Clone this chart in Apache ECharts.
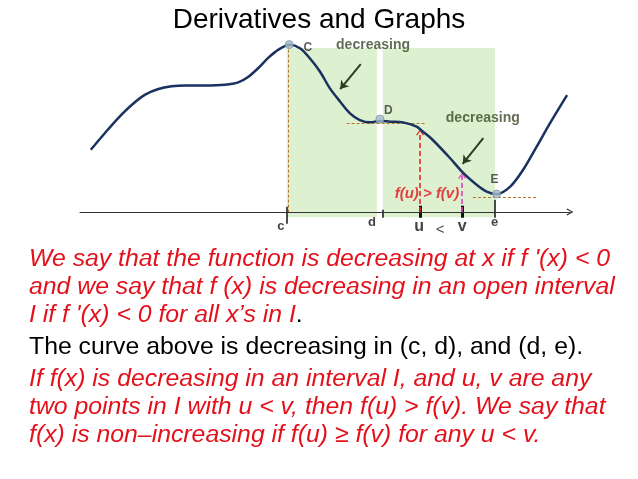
<!DOCTYPE html>
<html>
<head>
<meta charset="utf-8">
<script src="https://cdn.jsdelivr.net/npm/echarts@6/dist/echarts.min.js"></script>
<style>
html,body{margin:0;padding:0;background:#fff;}
#chart{width:638px;height:479px;}
</style>
</head>
<body>
<div id="chart"></div>
<script>
// ---- data (abstract units) ----
const curveX = [2.2, 5.1, 7.8, 10.6, 13.3, 16.0, 18.7, 21.4, 25.5, 29.6, 32.3, 34.3, 36.4, 38.4, 40.5, 42.8, 44.9, 46.9, 49.0, 51.0, 53.1, 55.1, 57.1, 59.2, 61.2, 63.3, 65.9, 68.7, 70.0, 72.0, 75.5, 78.2, 81.0, 83.0, 85.0, 87.8, 90.4, 93.2, 95.9, 99.4];
const curveY = [34.6, 43.9, 52.2, 59.6, 65.2, 68.3, 69.8, 70.3, 70.3, 70.7, 72.0, 75.0, 80.0, 85.6, 90.2, 92.9, 91.0, 85.4, 77.9, 68.7, 61.3, 54.8, 51.1, 49.8, 50.6, 50.2, 49.8, 47.4, 44.6, 40.0, 30.0, 21.7, 15.0, 11.3, 9.9, 14.1, 23.3, 36.3, 49.2, 64.9];
const pointNames = ['C', 'D', 'E'];
const pointX = [42.7, 61.2, 85.0];
const pointY = [93.0, 51.6, 10.0];
const tickNames = ['c', 'd', 'u', 'v', 'e'];
const tickX = [42.2, 61.8, 69.4, 78.0, 84.7];
const intervalStart = [42.2, 61.8];
const intervalEnd = [60.6, 84.7];
const intervalTop = 91.1;
const fu = 44.2;   // f(u)
const fv = 20.2;   // f(v)

const chart = echarts.init(document.getElementById('chart'), null, {renderer: 'canvas'});

const curveData = curveX.map((x, i) => [x, curveY[i]]);
const seg = (x1, y1, x2, y2) => [{coord: [x1, y1]}, {coord: [x2, y2]}];

const RED = '#e3111b';
const DASH = '#b8742a';
const FONT = '"Liberation Sans", Arial, sans-serif';
const CHEVRON = 'path://M5,0 L10,9 L8.6,10 L5,3.2 L1.4,10 L0,9 Z';

const bodyLines = [
  [{t: 'We say that the function is decreasing at x if f \'(x) < 0', s: 'r'}],
  [{t: 'and we say that f (x) is decreasing in an open interval', s: 'r'}],
  [{t: 'I if f \'(x) < 0 for all x\u2019s in I', s: 'r'}, {t: '.', s: 'k'}],
  [{t: 'The curve above is decreasing in (c, d), and (d, e).', s: 'k'}],
  [{t: 'If f(x) is decreasing in an interval I, and u, v are any', s: 'r'}],
  [{t: 'two points in I with u < v, then f(u) > f(v). We say that', s: 'r'}],
  [{t: 'f(x) is non\u2013increasing if f(u) \u2265 f(v) for any u < v.', s: 'r'}]
];
const bodyY = [259, 287, 315, 347, 379, 407, 435];

const graphics = [{
  type: 'text', left: 'center', top: 6,
  style: {text: 'Derivatives and Graphs', font: '28px ' + FONT, fill: '#000'}
}];
bodyLines.forEach((parts, i) => {
  graphics.push({
    type: 'text', x: 29, y: bodyY[i],
    style: {
      text: parts.map(p => '{' + p.s + '|' + p.t + '}').join(''),
      verticalAlign: 'middle',
      rich: {
        r: {fontStyle: 'italic', fontSize: 24.8, fontFamily: FONT, fill: RED, color: RED},
        k: {fontStyle: 'normal', fontSize: 24.8, fontFamily: FONT, fill: '#000', color: '#000'}
      }
    }
  });
});

const labelData = [
  {name: 'decreasing', value: [59.8, 92.9], fs: 14, c: '#3b4a28', w: 'bold', st: 'normal'},
  {name: 'decreasing', value: [82.2, 52.2], fs: 14, c: '#3b4a28', w: 'bold', st: 'normal'},
  {name: 'C', value: [46.5, 91.3], fs: 12, c: '#333', w: 'bold', st: 'normal'},
  {name: 'D', value: [62.9, 56.3], fs: 12, c: '#333', w: 'bold', st: 'normal'},
  {name: 'E', value: [84.6, 17.9], fs: 12, c: '#333', w: 'bold', st: 'normal'},
  {name: 'f(u) > f(v)', value: [70.8, 10.2], fs: 15, c: RED, w: 'bold', st: 'italic'},
  {name: 'c', value: [41.0, -8.2], fs: 13, c: '#111', w: 'bold', st: 'normal'},
  {name: 'd', value: [59.6, -5.9], fs: 13, c: '#111', w: 'bold', st: 'normal'},
  {name: 'u', value: [69.2, -8.2], fs: 16, c: '#111', w: 'bold', st: 'normal'},
  {name: '<', value: [73.5, -9.8], fs: 15, c: '#111', w: 'normal', st: 'normal'},
  {name: 'v', value: [78.0, -8.2], fs: 16, c: '#111', w: 'bold', st: 'normal'},
  {name: 'e', value: [84.6, -5.9], fs: 13, c: '#111', w: 'bold', st: 'normal'}
].map(d => ({
  name: d.name, value: d.value,
  label: {show: true, position: 'inside', formatter: '{b}', fontSize: d.fs, color: d.c,
          fontWeight: d.w, fontStyle: d.st, fontFamily: FONT}
}));

const tickBottom = [-6.5, -3.2, -3.2, -3.2, -3.2];
const tickTop = [2.9, 1.3, 3.5, 3.5, 6.8];
const tickWidth = [1.5, 1.5, 3, 3, 1.5];

chart.setOption({
  animation: false,
  backgroundColor: '#fff',
  graphic: graphics,
  grid: {left: 80, right: 68, top: 32, bottom: 240},
  xAxis: {
    type: 'value', min: 0, max: 100, z: 10,
    axisLine: {show: true, onZero: true, symbol: ['none', CHEVRON], symbolSize: [10, 7],
               lineStyle: {color: '#333', width: 1}},
    axisTick: {show: false}, axisLabel: {show: false}, splitLine: {show: false}
  },
  yAxis: {type: 'value', min: -15, max: 100, show: false},
  series: [
    {
      type: 'line', name: 'areas', data: [], silent: true, z: 1,
      markArea: {
        silent: true,
        itemStyle: {color: '#ddf0cf'},
        data: intervalStart.map((s, i) => seg(s, intervalTop, intervalEnd[i], -2.9))
      }
    },
    {
      type: 'line', name: 'guides', data: [], silent: true, z: 3,
      markLine: {
        silent: true, symbol: ['none', 'none'], label: {show: false},
        lineStyle: {color: DASH, type: [3, 2], width: 1},
        data: [
          seg(tickX[0] + 0.2, pointY[0], tickX[0] + 0.2, 0),
          seg(54.4, 49.4, 70.6, 49.4),
          seg(80.2, 8.3, 93.2, 8.3)
        ]
      }
    },
    {
      type: 'line', name: 'ticks', data: [], silent: true, z: 11,
      markLine: {
        silent: true, symbol: ['none', 'none'], label: {show: false},
        data: tickX.map((x, i) => {
          const s = seg(x, tickBottom[i], x, tickTop[i]);
          s[0].lineStyle = {color: '#111', type: 'solid', width: tickWidth[i]};
          return s;
        })
      }
    },
    {
      type: 'line', name: 'dashArrows', data: [], silent: true, z: 4,
      markLine: {
        silent: true, symbol: ['none', CHEVRON], symbolSize: [8, 6], label: {show: false},
        data: [
          (() => { const s = seg(tickX[2], 0, tickX[2], fu); s[0].lineStyle = {color: '#e32a22', type: [5, 3], width: 1.6}; return s; })(),
          (() => { const s = seg(tickX[3], 0, tickX[3], fv); s[0].lineStyle = {color: '#e040c0', type: [5, 3], width: 1.6}; return s; })()
        ]
      }
    },
    {
      type: 'line', name: 'arrows', data: [], silent: true, z: 4,
      markLine: {
        silent: true, symbol: ['none', 'arrow'], symbolSize: 8, label: {show: false},
        lineStyle: {color: '#2e3d1e', type: 'solid', width: 2},
        data: [
          seg(57.3, 82.2, 53.1, 68.3),
          seg(82.3, 41.1, 78.1, 26.8)
        ]
      }
    },
    {
      type: 'line', name: 'curve', data: curveData, smooth: 0.3, showSymbol: false, z: 5,
      lineStyle: {color: '#1b3160', width: 2.5}, silent: true
    },
    {
      type: 'scatter', name: 'points', z: 6, symbolSize: 8, silent: true,
      data: pointX.map((x, i) => ({name: pointNames[i], value: [x, pointY[i]]})),
      itemStyle: {color: '#a3bac8', borderColor: '#7e98a8', borderWidth: 1}
    },
    {
      type: 'scatter', name: 'labels', z: 12, symbolSize: 0, silent: true,
      data: labelData
    }
  ]
});
</script>
</body>
</html>
